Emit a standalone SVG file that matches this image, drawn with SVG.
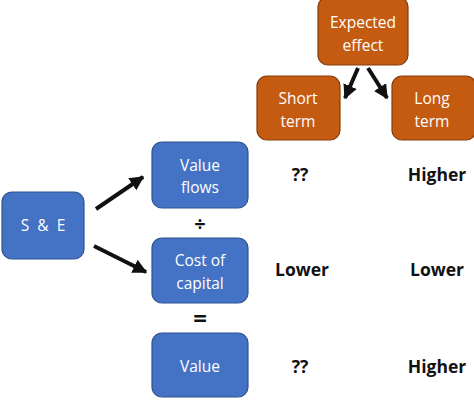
<svg xmlns="http://www.w3.org/2000/svg" width="474" height="400" viewBox="0 0 474 400">
<style>
.b{fill:#4472C4;stroke:#2F528F;stroke-width:1.2}
.o{fill:#C55A11;stroke:#843C0C;stroke-width:1.2}
.t{font-family:"Open Sans","Liberation Sans",sans-serif;font-size:15.5px;fill:#fff;text-anchor:middle}
.k{font-family:"Open Sans","Liberation Sans",sans-serif;font-size:17.5px;font-weight:bold;fill:#111;text-anchor:middle}
.c{stroke:#111;stroke-width:4;fill:none}
</style>
<defs>
<marker id="a" viewBox="0 0 10 10" refX="9" refY="5" markerWidth="3.6" markerHeight="3.6" orient="auto"><path d="M0,0 L10,5 L0,10 z" fill="#111"/></marker>
</defs>
<rect width="474" height="400" fill="#fff"/>
<g id="connectors">
<line class="c" x1="96" y1="209" x2="143" y2="177" marker-end="url(#a)"/>
<line class="c" x1="94" y1="246" x2="146" y2="272" marker-end="url(#a)"/>
<line class="c" x1="358" y1="68" x2="345" y2="98" marker-end="url(#a)"/>
<line class="c" x1="368" y1="68" x2="387" y2="98" marker-end="url(#a)"/>
</g>
<g id="expected"><rect class="o" x="318" y="-3" width="90" height="68" rx="10"/><text class="t" x="363" y="28">Expected</text><text class="t" x="363" y="51">effect</text></g>
<g id="short"><rect class="o" x="257" y="76" width="83" height="64" rx="10"/><text class="t" x="298" y="104">Short</text><text class="t" x="298" y="127">term</text></g>
<g id="long"><rect class="o" x="392" y="76" width="84" height="64" rx="10"/><text class="t" x="432" y="104">Long</text><text class="t" x="432" y="127">term</text></g>
<g id="se"><rect class="b" x="2" y="192" width="82" height="67" rx="10"/><text class="t" x="43" y="231" xml:space="preserve">S  &amp;  E</text></g>
<g id="flows"><rect class="b" x="152" y="142" width="96" height="66" rx="10"/><text class="t" x="200" y="171">Value</text><text class="t" x="200" y="193">flows</text></g>
<g id="cost"><rect class="b" x="152" y="238" width="96" height="65" rx="10"/><text class="t" x="200" y="266">Cost of</text><text class="t" x="200" y="289">capital</text></g>
<g id="value"><rect class="b" x="152" y="333" width="96" height="64" rx="10"/><text class="t" x="200" y="372">Value</text></g>
<g id="ops">
<text class="k" x="200" y="231" style="font-size:20px">÷</text>
<text class="k" x="200" y="327" style="font-size:24px">=</text>
</g>
<g id="labels">
<text class="k" x="300" y="181">??</text>
<text class="k" x="437" y="181">Higher</text>
<text class="k" x="302" y="276">Lower</text>
<text class="k" x="437" y="276">Lower</text>
<text class="k" x="300" y="373">??</text>
<text class="k" x="437" y="373">Higher</text>
</g>
</svg>
